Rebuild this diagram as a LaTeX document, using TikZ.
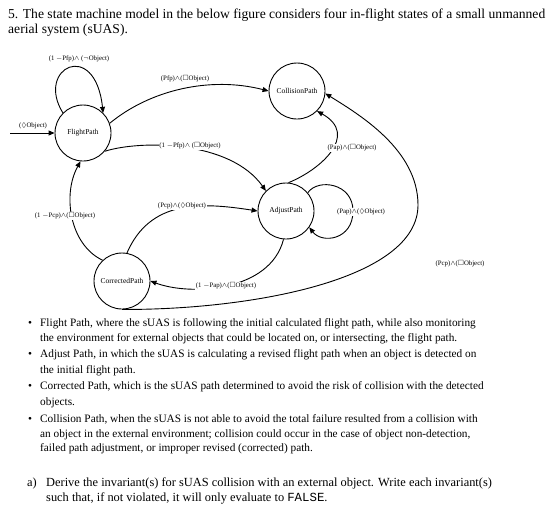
\documentclass[tikz,border=0pt]{standalone}
\usepackage{fontspec}
\setmainfont{Liberation Serif}
\setmonofont{Liberation Mono}
\usepackage{amssymb}
\usetikzlibrary{arrows.meta}
\begin{document}
\begin{tikzpicture}[x=1pt,y=-1pt,
  state/.style={circle, draw, line width=0.9pt, minimum size=56pt, inner sep=0pt, font=\fontsize{7.5}{9}\selectfont},
  edge/.style={line width=0.9pt, -{Triangle[length=6pt,width=5pt]}},
  lbl/.style={font=\fontsize{6.8}{8}\selectfont, inner sep=0.5pt},
  onl/.style={lbl, fill=white},
  body/.style={anchor=base west, inner sep=0pt, font=\fontsize{11.3}{13}\selectfont},
  qst/.style={anchor=base west, inner sep=0pt, font=\fontsize{12.4}{14}\selectfont},
  ttl/.style={anchor=base west, inner sep=0pt, font=\fontsize{13.6}{16}\selectfont}]
\useasboundingbox (0,0) rectangle (554,512);

% title
\node[ttl] (t1) at (8,18) {5. The state machine model in the below figure considers four in-flight states of a small unmanned};
\node[ttl] (t2) at (8,33) {aerial system (sUAS).};

% states
\node[state] (FP) at (83,133) {FlightPath};
\node[state] (CP) at (297,91) {CollisionPath};
\node[state] (AP) at (286,211) {AdjustPath};
\node[state] (CorP) at (122,281) {CorrectedPath};

% connectors
\coordinate (start) at (10,133);
\draw[edge] (start) -- (FP.west);
\draw[edge] (FP.135) .. controls (35,68) and (95,38) .. (FP.45);
\draw[edge] (FP.20) .. controls (150,90) and (210,76) .. (CP.west);
\draw[edge] (FP.-40) .. controls (140,140) and (230,140) .. (AP.135);
\draw[edge] (AP.85) .. controls (320,170) and (360,135) .. (CP.-45);
\draw[edge] (AP.40) .. controls (318,178) and (353,183) .. (353,211) .. controls (353,240) and (322,244) .. (AP.-35);
\draw[edge] (AP.-95) .. controls (270,292) and (190,296) .. (CorP.east);
\draw[edge] (CorP.80) .. controls (150,200) and (200,202) .. (AP.west);
\draw[edge] (CorP.133) .. controls (70,245) and (62,195) .. (FP.-95);
\draw[edge] (CorP.-90) .. controls (250,310) and (418,280) .. (418,205) .. controls (418,150) and (360,115) .. (CP.-5);

% labels
\node[lbl] (l0) at (33,126) {($\Diamond$Object)};
\node[lbl] (l1) at (79,59) {(1 $-$Pfp)$\wedge$ ($\neg$Object)};
\node[lbl] (l2) at (185,79) {(Pfp)$\wedge$($\Box$Object)};
\node[onl] (l3) at (190,146) {(1 $-$Pfp)$\wedge$ ($\Box$Object)};
\node[onl] (l4) at (352,148) {(Pap)$\wedge$($\Box$Object)};
\node[onl] (l5) at (361,212) {(Pap)$\wedge$($\Diamond$Object)};
\node[onl] (l6) at (182,206) {(Pcp)$\wedge$($\Diamond$Object)};
\node[onl] (l7) at (65,216) {(1 $-$Pcp)$\wedge$($\Box$Object)};
\node[onl] (l8) at (226,286) {(1 $-$Pap)$\wedge$($\Box$Object)};
\node[lbl] (l9) at (460,264) {(Pcp)$\wedge$($\Box$Object)};

% bullets
\node[body] (b1) at (28,326.5) {\textbullet};
\node[body] (b1a) at (40,326.5) {Flight Path, where the sUAS is following the initial calculated flight path, while also monitoring};
\node[body] (b1b) at (40,341.5) {the environment for external objects that could be located on, or intersecting, the flight path.};
\node[body] (b2) at (28,357.5) {\textbullet};
\node[body] (b2a) at (40,357.5) {Adjust Path, in which the sUAS is calculating a revised flight path when an object is detected on};
\node[body] (b2b) at (40,373) {the initial flight path.};
\node[body] (b3) at (28,389.5) {\textbullet};
\node[body] (b3a) at (40,389.5) {Corrected Path, which is the sUAS path determined to avoid the risk of collision with the detected};
\node[body] (b3b) at (40,405) {objects.};
\node[body] (b4) at (28,422) {\textbullet};
\node[body] (b4a) at (40,422) {Collision Path, when the sUAS is not able to avoid the total failure resulted from a collision with};
\node[body] (b4b) at (40,437) {an object in the external environment; collision could occur in the case of object non-detection,};
\node[body] (b4c) at (40,451.5) {failed path adjustment, or improper revised (corrected) path.};
\node[qst] (qa) at (27,486.5) {a)};
\node[qst] (qa1) at (46,486.5) {Derive the invariant(s) for sUAS collision with an external object. Write each invariant(s)};
\node[qst] (qa2) at (46,501.5) {such that, if not violated, it will only evaluate to \texttt{FALSE}.};
\end{tikzpicture}
\end{document}
